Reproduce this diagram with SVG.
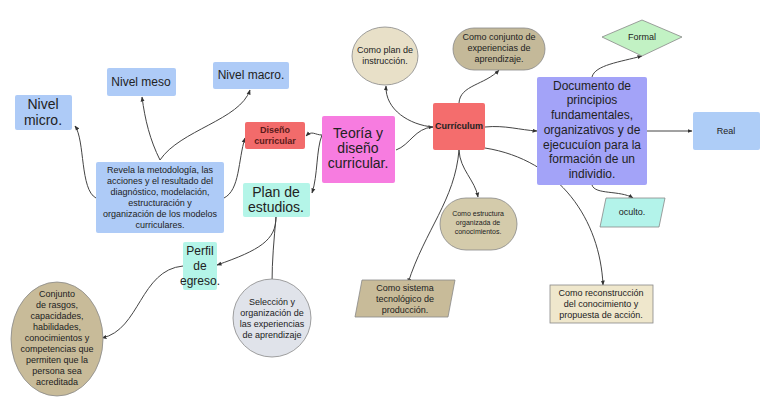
<svg xmlns="http://www.w3.org/2000/svg" width="768" height="406" viewBox="0 0 768 406">
<defs>
<marker id="a" viewBox="0 0 10 10" refX="9" refY="5" markerWidth="5" markerHeight="5" orient="auto"><path d="M0,1L10,5L0,9z" fill="#333"/></marker>
<style>
text{font-family:"Liberation Sans",Arial,sans-serif;fill:#222;text-anchor:middle}
.s{font-size:9px}.m{font-size:12px}.l{font-size:14px}
.e path{fill:none;stroke:#444;stroke-width:1;marker-end:url(#a)}
.b{stroke:#888;stroke-width:0.8}
</style>
</defs>
<rect width="768" height="406" fill="#fff"/>
<g class="e">
<path d="M96,198C80,190 85,140 75,126"/>
<path d="M160,160C150,140 145,120 142,97"/>
<path d="M160,160C180,130 240,120 250,90"/>
<path d="M224,198C240,190 238,160 245,138"/>
<path d="M322,135C315,135 312,130 306,136"/>
<path d="M322,135C316,150 318,175 312,193"/>
<path d="M396,150C410,145 415,128 433,127"/>
<path d="M433,127C410,125 385,110 386,86"/>
<path d="M459,103C460,85 485,85 499,70"/>
<path d="M485,127C505,125 520,130 537,131"/>
<path d="M459,150C455,200 425,230 408,283"/>
<path d="M459,150C460,170 475,180 478,197"/>
<path d="M485,148C560,160 600,220 603,285"/>
<path d="M592,77C595,65 620,62 642,56"/>
<path d="M647,131L692,131"/>
<path d="M592,185C595,195 620,190 633,198"/>
<path d="M276,217C276,240 260,250 217,265"/>
<path d="M276,217C274,240 272,260 272,284"/>
<path d="M183,266C140,270 140,330 102,338"/>
</g>
<g id="micro"><rect x="15" y="95" width="57" height="35" rx="2" fill="#aecbf7"/><text class="l" x="43" y="109">Nivel</text><text class="l" x="43" y="125">micro.</text></g>
<g id="meso"><rect x="107" y="68" width="69" height="28" rx="2" fill="#aecbf7"/><text class="m" x="141" y="86">Nivel meso</text></g>
<g id="macro"><rect x="213" y="62" width="76" height="27" rx="2" fill="#aecbf7"/><text class="m" x="251" y="79">Nivel macro.</text></g>
<g id="revela"><rect x="96" y="162" width="128" height="71" rx="2" fill="#aecbf7"/>
<text class="s" x="160" y="173">Revela la metodología, las</text><text class="s" x="160" y="184">acciones y el resultado del</text><text class="s" x="160" y="195">diagnóstico, modelación,</text><text class="s" x="160" y="206">estructuración  y</text><text class="s" x="160" y="217">organización de los modelos</text><text class="s" x="160" y="228">curriculares.</text></g>
<g id="diseno"><rect x="245" y="122" width="60" height="27" rx="2" fill="#f26b6b"/><text class="s" x="275" y="133" font-weight="bold" style="fill:#5a1a1a">Diseño</text><text class="s" x="275" y="144" font-weight="bold" style="fill:#5a1a1a">curricular</text></g>
<g id="plan"><rect x="243" y="183" width="67" height="34" rx="2" fill="#b4f5e8"/><text class="l" x="276" y="197">Plan de</text><text class="l" x="276" y="212">estudios.</text></g>
<g id="teoria"><rect x="322" y="116" width="73" height="67" rx="2" fill="#f77ce0"/><text class="l" x="358" y="138">Teoría y</text><text class="l" x="358" y="153">diseño</text><text class="l" x="358" y="168">curricular.</text></g>
<g id="curr"><rect x="433" y="103" width="52" height="47" rx="2" fill="#f46d6d"/><text class="s" x="459" y="129" font-weight="bold">Currículum</text></g>
<g id="instr"><ellipse cx="385" cy="56" rx="33" ry="29" fill="#e8e0c8" class="b"/><text class="s" x="385" y="53">Como plan de</text><text class="s" x="385" y="64">instrucción.</text></g>
<g id="conj"><rect x="453" y="28" width="92" height="42" rx="21" fill="#c4b999" class="b"/><text class="s" x="499" y="40">Como conjunto de</text><text class="s" x="499" y="51">experiencias de</text><text class="s" x="499" y="62">aprendizaje.</text></g>
<g id="formal"><path d="M602,37L642,20L682,37L642,56z" fill="#c2f2c4" class="b"/><text class="s" x="642" y="40">Formal</text></g>
<g id="doc"><rect x="537" y="77" width="110" height="108" rx="2" fill="#a3a3f8"/>
<text class="m" x="592" y="90">Documento de</text><text class="m" x="592" y="104">principios</text><text class="m" x="592" y="119">fundamentales,</text><text class="m" x="592" y="134">organizativos y de</text><text class="m" x="592" y="149">ejecucuíon para la</text><text class="m" x="592" y="163">formación de un</text><text class="m" x="592" y="178">individio.</text></g>
<g id="real"><rect x="693" y="112" width="67" height="38" rx="2" fill="#aecdf7"/><text class="s" x="726" y="134">Real</text></g>
<g id="oculto"><path d="M606,198L665,198L659,227L600,227z" fill="#b3f3ea" class="b"/><text class="s" x="632" y="215">oculto.</text></g>
<g id="estr"><rect x="440" y="198" width="77" height="52" rx="26" fill="#d4cbab" class="b"/><text style="font-size:7px" x="478" y="216">Como estructura</text><text style="font-size:7px" x="478" y="225">organizada de</text><text style="font-size:7px" x="478" y="234">conocimientos.</text></g>
<g id="sist"><path d="M362,280L455,280L448,317L355,317z" fill="#c8bb99" class="b"/><text class="s" x="405" y="291">Como sistema</text><text class="s" x="405" y="302">tecnológico de</text><text class="s" x="405" y="313">producción.</text></g>
<g id="recon"><rect x="550" y="285" width="103" height="38" fill="#efe7cc" class="b"/><text class="s" x="601" y="296">Como  reconstrucción</text><text class="s" x="601" y="307">del conocimiento y</text><text class="s" x="601" y="318">propuesta de acción.</text></g>
<g id="perfil"><rect x="183" y="242" width="34" height="48" rx="2" fill="#b4f5e8"/><text class="m" x="200" y="255">Perfil</text><text class="m" x="200" y="270">de</text><text class="m" x="200" y="285">egreso.</text></g>
<g id="sel"><circle cx="272" cy="318" r="39" fill="#e0e3ea" class="b"/><text class="s" x="272" y="305">Selección y</text><text class="s" x="272" y="316">organización de</text><text class="s" x="272" y="327">las experiencias</text><text class="s" x="272" y="338">de aprendizaje</text></g>
<g id="rasgos"><ellipse cx="57" cy="339" rx="46" ry="57" fill="#c8bb99" class="b"/>
<text class="s" x="57" y="297">Conjunto</text><text class="s" x="57" y="308">de rasgos,</text><text class="s" x="57" y="319">capacidades,</text><text class="s" x="57" y="330">habilidades,</text><text class="s" x="57" y="341">conocimientos y</text><text class="s" x="57" y="352">competencias que</text><text class="s" x="57" y="363">permiten que la</text><text class="s" x="57" y="374">persona sea</text><text class="s" x="57" y="385">acreditada</text></g>
</svg>
